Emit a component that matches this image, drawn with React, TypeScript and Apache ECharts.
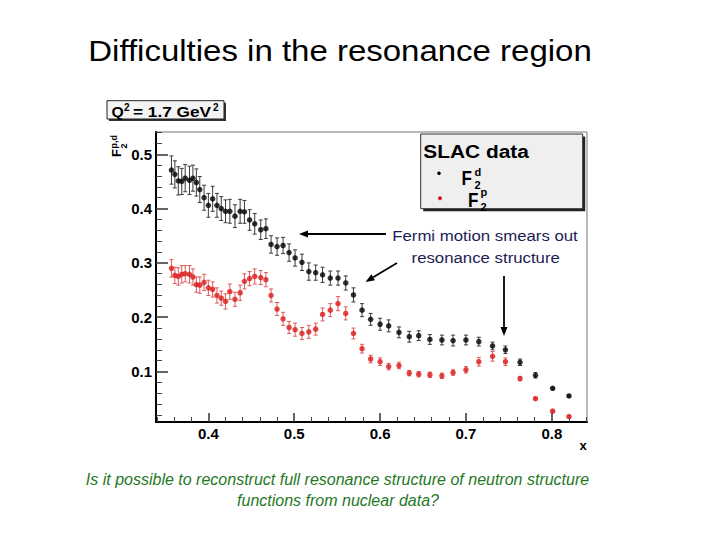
import React, { useEffect, useRef } from "react";
import * as echarts from "echarts";

// Bjorken x of each measured bin (shared by deuteron and proton sets)
const xValues = [
  0.357, 0.361, 0.365, 0.369, 0.373, 0.378, 0.382, 0.386, 0.390, 0.395,
  0.400, 0.405, 0.410, 0.415, 0.420, 0.425, 0.431, 0.437, 0.442, 0.448,
  0.454, 0.461, 0.467, 0.473, 0.480, 0.487, 0.494, 0.501, 0.509, 0.517,
  0.525, 0.533, 0.542, 0.551, 0.560, 0.569, 0.579, 0.589, 0.600, 0.610,
  0.622, 0.634, 0.645, 0.658, 0.672, 0.685, 0.700, 0.715, 0.731, 0.746,
  0.763, 0.781, 0.801, 0.820,
];

// Deuteron structure function F2^d and its uncertainty
const f2d = [
  0.471, 0.463, 0.451, 0.450, 0.456, 0.452, 0.456, 0.448, 0.435, 0.420,
  0.406, 0.418, 0.406, 0.400, 0.395, 0.395, 0.386, 0.395, 0.394, 0.379,
  0.372, 0.361, 0.363, 0.334, 0.330, 0.332, 0.319, 0.309, 0.301, 0.284,
  0.282, 0.278, 0.272, 0.272, 0.263, 0.241, 0.213, 0.196, 0.187, 0.184,
  0.172, 0.164, 0.166, 0.159, 0.158, 0.157, 0.158, 0.155, 0.147, 0.140,
  0.117, 0.093, 0.069, 0.055,
];
const f2dErr = [
  0.026, 0.025, 0.026, 0.024, 0.025, 0.026, 0.024, 0.025, 0.024, 0.023,
  0.022, 0.023, 0.022, 0.022, 0.021, 0.022, 0.021, 0.022, 0.021, 0.019,
  0.019, 0.018, 0.018, 0.016, 0.016, 0.015, 0.016, 0.015, 0.015, 0.016,
  0.014, 0.014, 0.013, 0.013, 0.013, 0.013, 0.012, 0.011, 0.011, 0.011,
  0.010, 0.010, 0.009, 0.009, 0.009, 0.010, 0.009, 0.008, 0.007, 0.007,
  0.006, 0.005, 0.002, 0.002,
];

// Proton structure function F2^p and its uncertainty
const f2p = [
  0.290, 0.277, 0.275, 0.279, 0.280, 0.279, 0.274, 0.260, 0.259, 0.264,
  0.254, 0.251, 0.240, 0.235, 0.229, 0.247, 0.233, 0.245, 0.266, 0.271,
  0.275, 0.273, 0.269, 0.240, 0.215, 0.197, 0.181, 0.177, 0.170, 0.173,
  0.178, 0.205, 0.213, 0.225, 0.207, 0.170, 0.142, 0.123, 0.118, 0.109,
  0.111, 0.097, 0.095, 0.094, 0.092, 0.098, 0.103, 0.118, 0.128, 0.118,
  0.087, 0.050, 0.027, 0.017,
];
const f2pErr = [
  0.016, 0.015, 0.016, 0.016, 0.015, 0.016, 0.015, 0.014, 0.015, 0.015,
  0.014, 0.014, 0.014, 0.013, 0.014, 0.014, 0.013, 0.014, 0.014, 0.013,
  0.014, 0.013, 0.013, 0.012, 0.012, 0.012, 0.011, 0.012, 0.011, 0.012,
  0.011, 0.012, 0.012, 0.013, 0.012, 0.010, 0.008, 0.007, 0.007, 0.006,
  0.006, 0.005, 0.005, 0.005, 0.005, 0.005, 0.006, 0.008, 0.009, 0.007,
  0.004, 0.002, 0.002, 0.002,
];

// Axis ticks
const xMajorTicks = [0.4, 0.5, 0.6, 0.7, 0.8];
const xMinorTicks = [
  0.34, 0.36, 0.38, 0.42, 0.44, 0.46, 0.48, 0.52, 0.54, 0.56, 0.58,
  0.62, 0.64, 0.66, 0.68, 0.72, 0.74, 0.76, 0.78, 0.82, 0.84,
];
const yMajorTicks = [0.1, 0.2, 0.3, 0.4, 0.5];
const yMinorTicks = [
  0.02, 0.04, 0.06, 0.08, 0.12, 0.14, 0.16, 0.18, 0.22, 0.24, 0.26, 0.28,
  0.32, 0.34, 0.36, 0.38, 0.42, 0.44, 0.46, 0.48, 0.52, 0.54,
];

const X_MIN = 0.339;
const X_MAX = 0.841;
const Y_MIN = 0.007;
const Y_MAX = 0.541;

const SANS = '"Liberation Sans", Arial, Helvetica, sans-serif';
const RED = "#d81b1b";

function errorBars(values: number[], errors: number[], color: string) {
  return {
    type: "custom",
    z: 2,
    data: xValues.map((x, i) => [x, values[i], errors[i]]),
    encode: { x: 0, y: 1 },
    renderItem: (_params: any, api: any) => {
      const x = api.value(0);
      const y = api.value(1);
      const e = api.value(2);
      const hi = api.coord([x, y + e]);
      const lo = api.coord([x, y - e]);
      const style = { stroke: color, lineWidth: 1 };
      const cap = 2;
      return {
        type: "group",
        children: [
          { type: "line", shape: { x1: hi[0], y1: hi[1], x2: lo[0], y2: lo[1] }, style },
          { type: "line", shape: { x1: hi[0] - cap, y1: hi[1], x2: hi[0] + cap, y2: hi[1] }, style },
          { type: "line", shape: { x1: lo[0] - cap, y1: lo[1], x2: lo[0] + cap, y2: lo[1] }, style },
        ],
      };
    },
  };
}

function arrow(x1: number, y1: number, x2: number, y2: number) {
  const ang = Math.atan2(y2 - y1, x2 - x1);
  const len = 9;
  const half = 3.5;
  const bx = x2 - len * Math.cos(ang);
  const by = y2 - len * Math.sin(ang);
  const nx = -Math.sin(ang) * half;
  const ny = Math.cos(ang) * half;
  return [
    {
      type: "line",
      shape: { x1, y1, x2: bx, y2: by },
      style: { stroke: "#000", lineWidth: 1.8 },
    },
    {
      type: "polygon",
      shape: { points: [[x2, y2], [bx + nx, by + ny], [bx - nx, by - ny]] },
      style: { fill: "#000" },
    },
  ];
}

function txt(
  text: string,
  x: number,
  y: number,
  font: string,
  opts: { fill?: string; align?: string; scaleX?: number; scaleY?: number; lineHeight?: number } = {}
) {
  const style: any = {
    text,
    x: 0,
    y: 0,
    font,
    fill: opts.fill ?? "#000",
    align: opts.align ?? "left",
    verticalAlign: "middle",
  };
  if (opts.lineHeight) style.lineHeight = opts.lineHeight;
  return {
    type: "text",
    x,
    y,
    scaleX: opts.scaleX ?? 1,
    scaleY: opts.scaleY ?? 1,
    style,
  };
}

export default function App() {
  const ref = useRef<HTMLDivElement>(null);

  useEffect(() => {
    if (!ref.current) return;
    const chart = echarts.init(ref.current, undefined, { renderer: "svg" });

    const axisCommon = {
      type: "value",
      splitLine: { show: false },
    };

    const option: any = {
      animation: false,
      backgroundColor: "#ffffff",
      grid: {
        left: 156,
        right: 133,
        top: 132,
        bottom: 118,
        show: true,
        borderColor: "#777",
        borderWidth: 1,
        outerBoundsMode: "none",
      },
      xAxis: [
        {
          ...axisCommon,
          min: X_MIN,
          max: X_MAX,
          position: "bottom",
          axisLine: { show: true, onZero: false, lineStyle: { color: "#000", width: 2 } },
          axisTick: {
            show: true,
            inside: true,
            length: 9,
            customValues: xMajorTicks,
            lineStyle: { color: "#333", width: 1.5 },
          },
          axisLabel: {
            show: true,
            customValues: xMajorTicks,
            formatter: (v: number) => v.toFixed(1),
            fontFamily: SANS,
            fontWeight: "bold",
            fontSize: 15,
            color: "#000",
            margin: 4,
          },
        },
        {
          ...axisCommon,
          min: X_MIN,
          max: X_MAX,
          position: "bottom",
          axisLine: { show: false, onZero: false },
          axisTick: {
            show: true,
            inside: true,
            length: 5,
            customValues: xMinorTicks,
            lineStyle: { color: "#444", width: 1 },
          },
          axisLabel: { show: false },
        },
      ],
      yAxis: [
        {
          ...axisCommon,
          min: Y_MIN,
          max: Y_MAX,
          position: "left",
          axisLine: { show: true, onZero: false, lineStyle: { color: "#000", width: 2 } },
          axisTick: {
            show: true,
            inside: true,
            length: 12,
            customValues: yMajorTicks,
            lineStyle: { color: "#333", width: 1.5 },
          },
          axisLabel: {
            show: true,
            customValues: yMajorTicks,
            formatter: (v: number) => v.toFixed(1),
            fontFamily: SANS,
            fontWeight: "bold",
            fontSize: 15,
            color: "#000",
            margin: 4,
          },
        },
        {
          ...axisCommon,
          min: Y_MIN,
          max: Y_MAX,
          position: "left",
          axisLine: { show: false, onZero: false },
          axisTick: {
            show: true,
            inside: true,
            length: 6,
            customValues: yMinorTicks,
            lineStyle: { color: "#444", width: 1 },
          },
          axisLabel: { show: false },
        },
      ],
      series: [
        errorBars(f2p, f2pErr, "#e05a5a"),
        errorBars(f2d, f2dErr, "#3a3a3a"),
        {
          name: "F2p",
          type: "scatter",
          z: 3,
          symbol: "circle",
          symbolSize: 5.5,
          itemStyle: { color: RED },
          data: xValues.map((x, i) => [x, f2p[i]]),
        },
        {
          name: "F2d",
          type: "scatter",
          z: 4,
          symbol: "circle",
          symbolSize: 5.5,
          itemStyle: { color: "#000" },
          data: xValues.map((x, i) => [x, f2d[i]]),
        },
      ],
      graphic: [
        // slide title
        txt("Difficulties in the resonance region", 340, 51, `30px ${SANS}`, {
          align: "center",
          scaleX: 1.1,
        }),
        // kinematics box
        { type: "rect", shape: { x: 109, y: 102.7, width: 117, height: 18.3 }, style: { fill: "#333" } },
        {
          type: "rect",
          shape: { x: 107, y: 100.7, width: 117, height: 18.3 },
          style: { fill: "#f4f4f4", stroke: "#222", lineWidth: 1 },
        },
        txt("Q", 111.5, 111.3, `bold 15px ${SANS}`, { scaleX: 1.05, lineHeight: 12 }),
        txt("2", 124, 107.5, `bold 10px ${SANS}`, { lineHeight: 8 }),
        txt("= 1.7 GeV", 133, 111.3, `bold 15px ${SANS}`, { scaleX: 1.15, lineHeight: 12 }),
        txt("2", 213, 107.5, `bold 10px ${SANS}`, { lineHeight: 8 }),
        // vertical axis title F2^{p,d}
        {
          type: "group",
          x: 121.5,
          y: 157,
          rotation: Math.PI / 2,
          children: [
            txt("F", 0, -4.6, `bold 13px ${SANS}`, { lineHeight: 10 }),
            txt("p,d", 8.5, -7.5, `bold 9px ${SANS}`, { lineHeight: 7 }),
            txt("2", 8.5, 2.5, `bold 9px ${SANS}`, { lineHeight: 7 }),
          ],
        },
        // horizontal axis title
        txt("x", 583, 445, `bold 13px ${SANS}`, { align: "center" }),
        // legend box
        { type: "rect", shape: { x: 423.2, y: 136.5, width: 162, height: 74.7 }, style: { fill: "#222" } },
        {
          type: "rect",
          shape: { x: 420.7, y: 134, width: 162, height: 74.7 },
          style: { fill: "#efefef", stroke: "#333", lineWidth: 1 },
        },
        txt("SLAC data", 423.3, 151.7, `bold 19px ${SANS}`, { scaleX: 1.1 }),
        { type: "circle", shape: { cx: 439, cy: 173.3, r: 1.8 }, style: { fill: "#000" } },
        txt("F", 461.5, 177.5, `bold 17px ${SANS}`, { scaleY: 1.22, lineHeight: 13 }),
        txt("d", 474.5, 171.5, `bold 11px ${SANS}`, { lineHeight: 8 }),
        txt("2", 474.5, 184.5, `bold 11px ${SANS}`, { lineHeight: 8 }),
        { type: "circle", shape: { cx: 440, cy: 198.3, r: 2 }, style: { fill: RED } },
        txt("F", 468, 199.5, `bold 17px ${SANS}`, { scaleY: 1.22, lineHeight: 13 }),
        txt("p", 480.5, 192, `bold 11px ${SANS}`, { lineHeight: 8 }),
        txt("2", 480.5, 206.5, `bold 11px ${SANS}`, { lineHeight: 8 }),
        // annotation
        txt("Fermi motion smears out", 485, 236, `15px ${SANS}`, {
          align: "center",
          fill: "#1c1c55",
          scaleX: 1.12,
        }),
        txt("resonance structure", 485.7, 257.5, `15px ${SANS}`, {
          align: "center",
          fill: "#1c1c55",
          scaleX: 1.12,
        }),
        ...arrow(386, 234, 299, 234),
        ...arrow(397, 263, 365.5, 282),
        ...arrow(504, 276, 504, 336),
        // closing question
        txt(
          "Is it possible to reconstruct full resonance structure of neutron structure",
          337.5,
          479,
          `italic 16px ${SANS}`,
          { align: "center", fill: "#1f781f" }
        ),
        txt("functions from nuclear data?", 338, 500, `italic 16px ${SANS}`, {
          align: "center",
          fill: "#1f781f",
        }),
      ],
    };

    chart.setOption(option);
    return () => chart.dispose();
  }, []);

  return (
    <div
      ref={ref}
      style={{ position: "fixed", left: 0, top: 0, width: 720, height: 540, background: "#fff" }}
    />
  );
}
